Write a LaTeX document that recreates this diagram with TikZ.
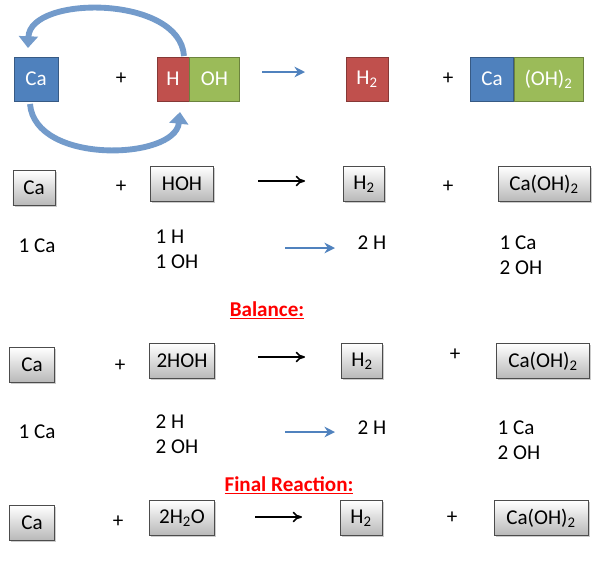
\documentclass[tikz,border=0pt]{standalone}
\usepackage{fontspec}
\setmainfont{Carlito}
\usetikzlibrary{arrows.meta}
\usetikzlibrary{shadows}
\usetikzlibrary{positioning}
\definecolor{caBlue}{RGB}{79,129,189}
\definecolor{hRed}{RGB}{192,80,77}
\definecolor{ohGreen}{RGB}{155,187,89}
\definecolor{arrBlue}{RGB}{80,130,190}
\newcommand{\sub}[1]{\textsubscript{#1}}
\begin{document}
\begin{tikzpicture}[x=0.03cm, y=-0.03cm, font=\fontsize{18}{21}\selectfont]
    \tikzset{
        tile/.style={draw=#1!70!black, fill=#1, text=white, minimum height=1.32cm, inner sep=0pt},
        gbox/.style={draw=black!70, top color=white, bottom color=black!28, minimum height=1.05cm,
            inner sep=3pt, drop shadow={shadow xshift=1.5pt, shadow yshift=-1.5pt, opacity=0.4}},
        rx/.style={-{To[length=8pt,width=9pt]}, line width=1.4pt},
        bx/.style={-{Stealth[length=9pt,width=9pt]}, arrBlue, line width=1.4pt},
        head/.style={text=red, font=\fontsize{18}{21}\selectfont\bfseries}
    }
    \useasboundingbox (0,0) rectangle (600,577);

    % top row
    \node [tile=caBlue, minimum width=1.32cm] (ca0) at (36,79) {Ca};
    \node [tile=hRed, minimum width=0.96cm] (h0) at (173,79) {H};
    \node [tile=ohGreen, minimum width=1.5cm, anchor=west] (oh0) at (h0.east) {OH};
    \node [tile=hRed, minimum width=1.26cm] (h20) at (367,79) {H\sub{2}};
    \node [tile=caBlue, minimum width=1.29cm] (ca1) at (492,79) {Ca};
    \node [tile=ohGreen, minimum width=2.07cm, anchor=west] (oh1) at (ca1.east) {(OH)\sub{2}};
    \node (p01) at (121,79) {+};
    \node (p02) at (448,79) {+};
    \coordinate (a0s) at (262,72);
    \coordinate (a0e) at (305,72);
    \draw [bx] (a0s) -- (a0e);
    \draw [line width=5pt, arrBlue!80, -{Triangle[length=10pt,width=16pt]}] (184,56) .. controls (180,-5) and (30,-5) .. (28,48);
    \draw [line width=5pt, arrBlue!80, -{Triangle[length=10pt,width=16pt]}] (30,104) .. controls (35,165) and (175,160) .. (180,112);

    % unbalanced
    \node [gbox, minimum width=1.26cm] (ca2) at (34,188) {Ca};
    \node [gbox, minimum width=1.9cm] (hoh2) at (182,184) {HOH};
    \node [gbox, minimum width=1.23cm] (h22) at (364,184) {H\sub{2}};
    \node [gbox, minimum width=2.76cm] (caoh2) at (544,184) {Ca(OH)\sub{2}};
    \node (p21) at (121,187) {+};
    \node (p22) at (448,187) {+};
    \coordinate (a2s) at (258,181);
    \coordinate (a2e) at (305,181);
    \draw [rx] (a2s) -- (a2e);

    \node (c3a) at (37,246) {1 Ca};
    \node [align=left] (c3b) at (177,249) {1 H\\1 OH};
    \node (c3c) at (372,243) {2 H};
    \node [align=left] (c3d) at (521,255) {1 Ca\\2 OH};
    \coordinate (a3s) at (285,248);
    \coordinate (a3e) at (335,248);
    \draw [bx] (a3s) -- (a3e);

    \node [head] (bal) at (267,310) {\underline{Balance:}};

    % balanced
    \node [gbox, minimum width=1.35cm] (ca4) at (32,365) {Ca};
    \node [gbox, minimum width=1.95cm] (hoh4) at (182,361) {2HOH};
    \node [gbox, minimum width=1.23cm] (h24) at (362,361) {H\sub{2}};
    \node [gbox, minimum width=2.79cm] (caoh4) at (543,361) {Ca(OH)\sub{2}};
    \node (p41) at (120,366) {+};
    \node (p42) at (455,355) {+};
    \coordinate (a4s) at (258,357);
    \coordinate (a4e) at (305,357);
    \draw [rx] (a4s) -- (a4e);

    \node (c5a) at (37,432) {1 Ca};
    \node [align=left] (c5b) at (177,434) {2 H\\2 OH};
    \node (c5c) at (372,428) {2 H};
    \node [align=left] (c5d) at (519,440) {1 Ca\\2 OH};
    \coordinate (a5s) at (285,432);
    \coordinate (a5e) at (335,432);
    \draw [bx] (a5s) -- (a5e);

    \node [head] (fin) at (289,485) {\underline{Final Reaction:}};

    % final
    \node [gbox, minimum width=1.35cm] (ca6) at (32,523) {Ca};
    \node [gbox, minimum width=1.95cm] (h2o6) at (182,518) {2H\sub{2}O};
    \node [gbox, minimum width=1.26cm] (h26) at (361,518) {H\sub{2}};
    \node [gbox, minimum width=2.82cm] (caoh6) at (541,518) {Ca(OH)\sub{2}};
    \node (p61) at (118,522) {+};
    \node (p62) at (452,518) {+};
    \coordinate (a6s) at (255,517);
    \coordinate (a6e) at (302,517);
    \draw [rx] (a6s) -- (a6e);
\end{tikzpicture}
\end{document}
